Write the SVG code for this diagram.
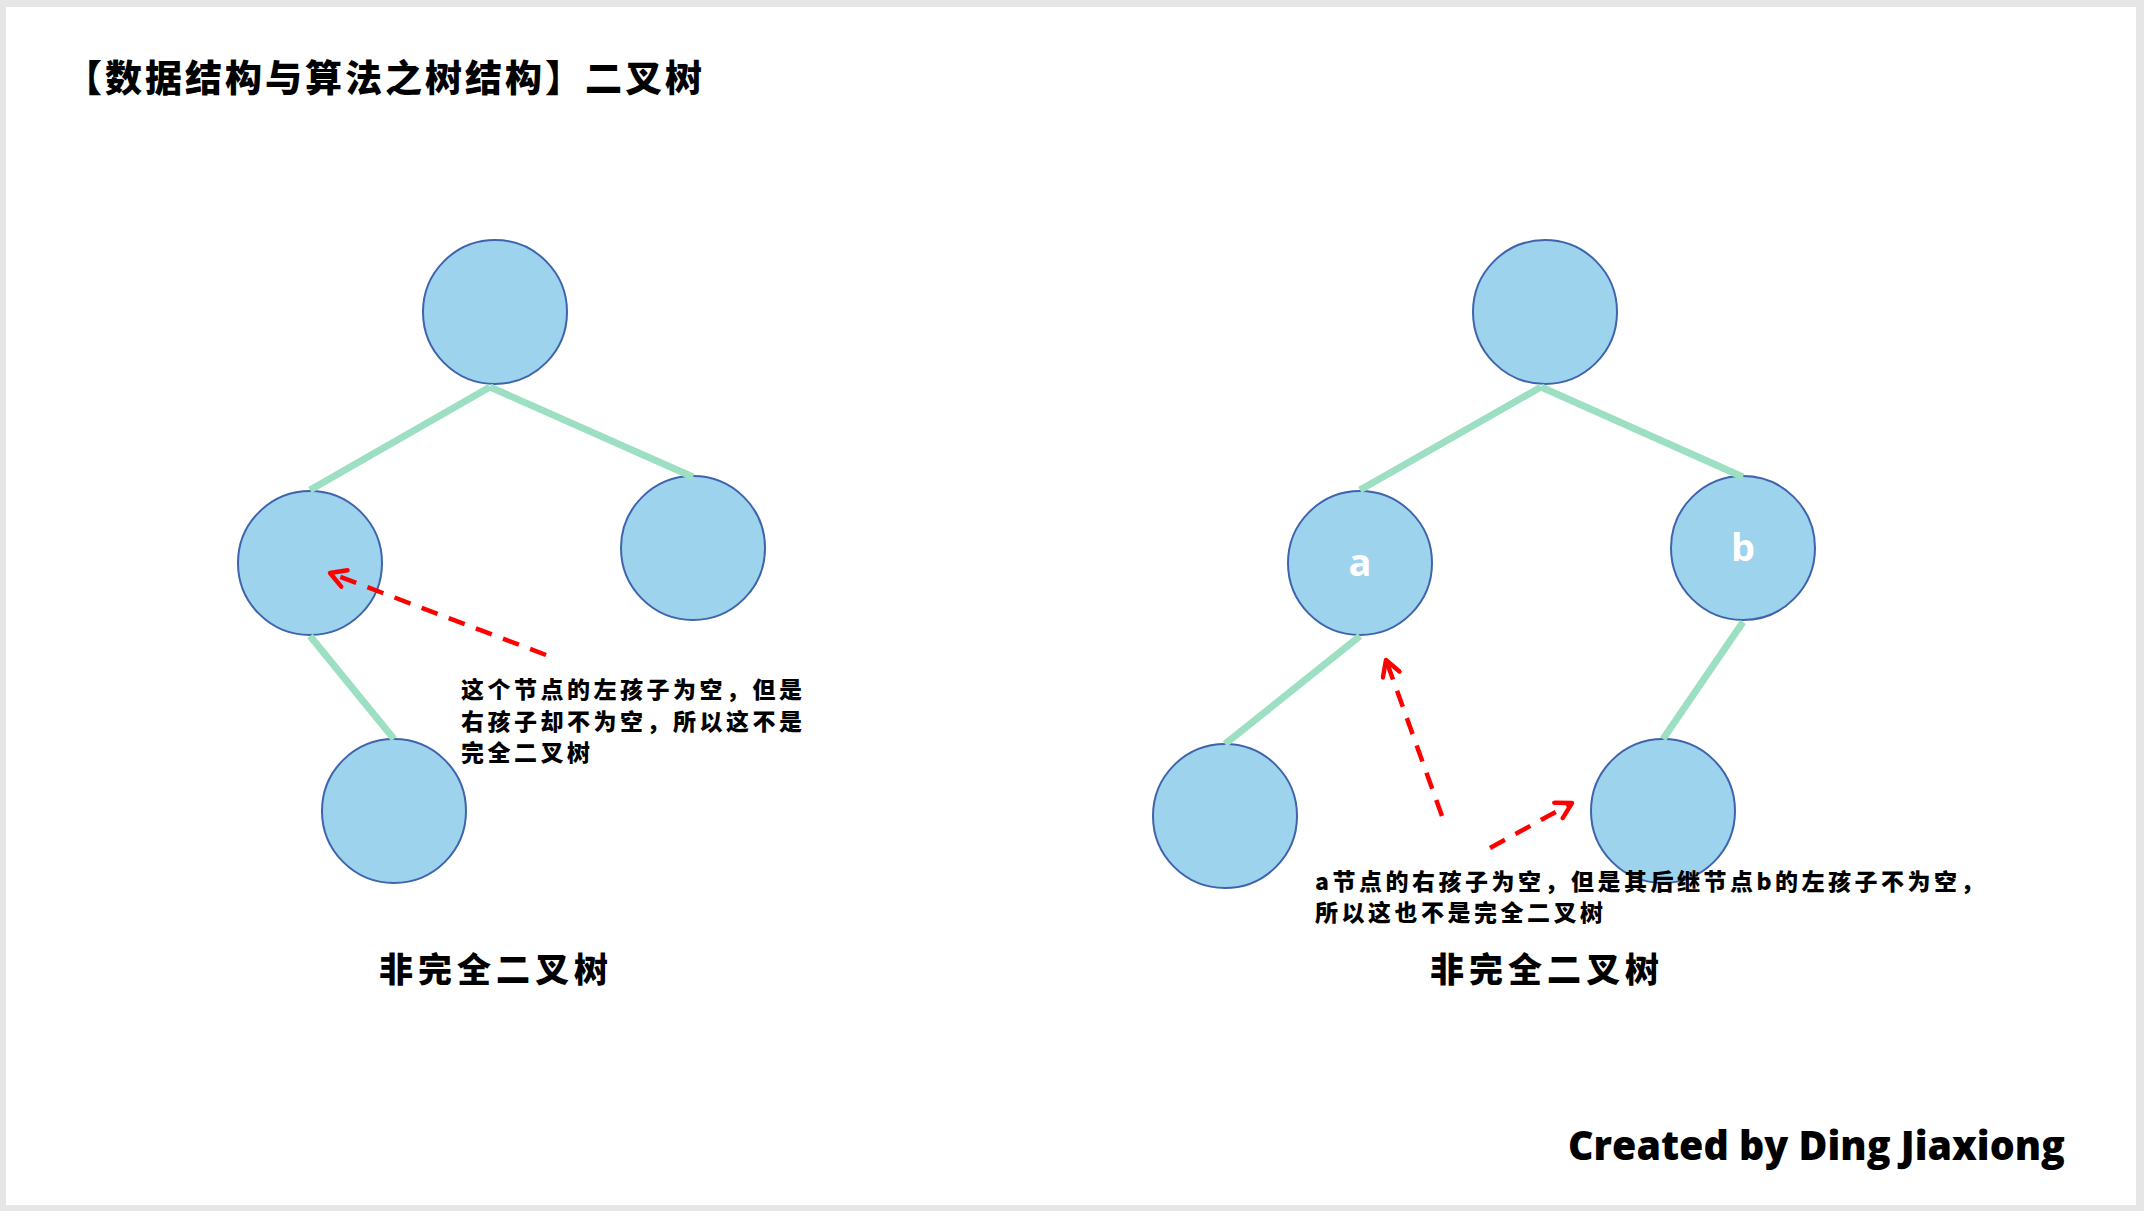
<svg xmlns="http://www.w3.org/2000/svg" width="2144" height="1211" viewBox="0 0 2144 1211">
<style>
.node{fill:#9dd3ed;stroke:#3f64ad;stroke-width:2}
.edge{stroke:#9ddfc2;stroke-width:7;fill:none}
.arrow{stroke:#ff0000;stroke-width:4.5;fill:none;stroke-dasharray:17 12}
.cjk{font-family:"Noto Sans CJK SC","Noto Sans",sans-serif;fill:#000}
.title{font-size:37px;font-weight:900;letter-spacing:3px}
.note{font-size:23px;font-weight:900;letter-spacing:3.5px}
.cap{font-size:34px;font-weight:900;letter-spacing:5px}
.lbl{font-family:"Open Sans","Noto Sans",sans-serif;font-size:38px;font-weight:700;fill:#ffffff;text-anchor:middle}
</style>
<defs>
<marker id="head" viewBox="0 0 20 20" refX="17" refY="10" markerWidth="22" markerHeight="22" markerUnits="userSpaceOnUse" orient="auto">
<path d="M3,2 L17,10 L3,18" fill="none" stroke="#ff0000" stroke-width="4" stroke-linecap="round" stroke-linejoin="round"/>
</marker>
</defs>
<rect x="0" y="0" width="2144" height="1211" fill="#e6e6e6"/>
<rect x="6" y="7" width="2130" height="1198" fill="#ffffff"/>
<text class="cjk title" x="65" y="92">【数据结构与算法之树结构】二叉树</text>

<g id="left-tree-nodes">
<g id="L-root"><circle class="node" cx="495" cy="312" r="72"/></g>
<g id="L-left"><circle class="node" cx="310" cy="563" r="72"/></g>
<g id="L-right"><circle class="node" cx="693" cy="548" r="72"/></g>
<g id="L-leftleft"><circle class="node" cx="394" cy="811" r="72"/></g>
</g>
<g id="right-tree-nodes">
<g id="R-root"><circle class="node" cx="1545" cy="312" r="72"/></g>
<g id="R-a"><circle class="node" cx="1360" cy="563" r="72"/><text class="lbl" x="1360" y="576">a</text></g>
<g id="R-b"><circle class="node" cx="1743" cy="548" r="72"/><text class="lbl" x="1743" y="561">b</text></g>
<g id="R-aleft"><circle class="node" cx="1225" cy="816" r="72"/></g>
<g id="R-bleft"><circle class="node" cx="1663" cy="811" r="72"/></g>
</g>

<g id="connectors">
<line class="edge" x1="490" y1="387" x2="310" y2="490"/>
<line class="edge" x1="490" y1="387" x2="693" y2="477"/>
<line class="edge" x1="310" y1="636" x2="394" y2="739"/>
<line class="edge" x1="1541" y1="387" x2="1360" y2="490"/>
<line class="edge" x1="1541" y1="387" x2="1743" y2="477"/>
<line class="edge" x1="1360" y1="636" x2="1225" y2="744"/>
<line class="edge" x1="1743" y1="622" x2="1663" y2="739"/>
<line class="arrow" x1="546" y1="655" x2="330" y2="573" marker-end="url(#head)"/>
<line class="arrow" x1="1442" y1="816" x2="1386" y2="660" marker-end="url(#head)"/>
<line class="arrow" x1="1490" y1="848" x2="1572" y2="803" marker-end="url(#head)"/>
</g>

<g id="notes">
<text class="cjk note" x="461" y="698">这个节点的左孩子为空，但是</text>
<text class="cjk note" x="461" y="730">右孩子却不为空，所以这不是</text>
<text class="cjk note" x="461" y="761">完全二叉树</text>
<text class="cjk note" x="1315" y="890">a节点的右孩子为空，但是其后继节点b的左孩子不为空，</text>
<text class="cjk note" x="1315" y="921">所以这也不是完全二叉树</text>
</g>
<text class="cjk cap" x="379" y="982">非完全二叉树</text>
<text class="cjk cap" x="1430" y="982">非完全二叉树</text>
<text x="1568" y="1160" font-family="'Open Sans','Liberation Sans',sans-serif" font-weight="800" font-size="40" textLength="497" lengthAdjust="spacingAndGlyphs" fill="#000">Created by Ding Jiaxiong</text>
</svg>
